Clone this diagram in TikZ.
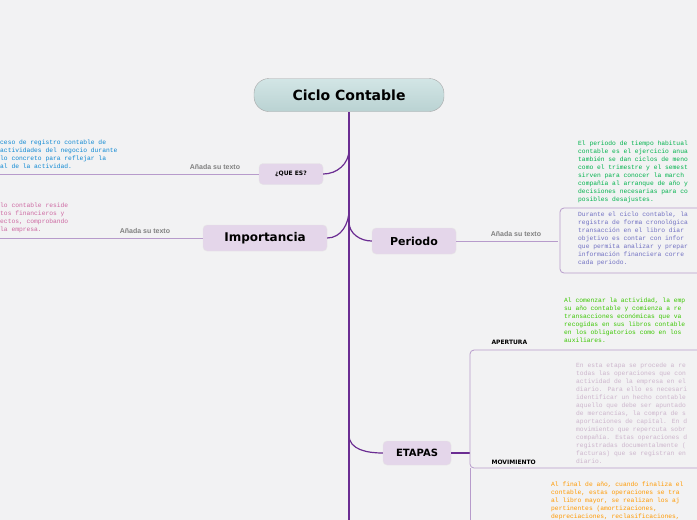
\documentclass[tikz,border=0pt]{standalone}
\usepackage{fontspec}
\setmainfont{DejaVu Sans}
\newfontfamily\mono{Liberation Mono}
\newfontfamily\lab{Liberation Sans}
\definecolor{topicfill}{HTML}{E4D6EA}
\definecolor{trunkc}{HTML}{6B2D92}
\definecolor{thinc}{HTML}{B79BCB}
\begin{document}
\begin{tikzpicture}[x=1pt,y=-1pt,
 topic/.style={draw=white!80!gray,fill=topicfill,rounded corners=4pt,font=\bfseries,text=black,inner sep=0pt},
 conn/.style={draw=trunkc,line width=1.6pt},
 thin/.style={draw=thinc,line width=0.8pt},
 lbl/.style={font=\lab\bfseries\fontsize{7}{8}\selectfont,text=gray},
 txt/.style={font=\mono\fontsize{6.3}{8}\selectfont,align=left,inner sep=0pt,anchor=north west}]
\useasboundingbox (0,0) rectangle (697,520);
\fill[blue!3!gray!10!white] (0,0) rectangle (697,520);
\coordinate (trunk) at (349,112);
\coordinate (bot) at (349,520);
\draw[conn] (trunk) -- (bot);
\node[draw=gray!70,top color=gray!25!teal!20!white,bottom color=gray!45!teal!35!white,rounded corners=15pt,minimum width=190pt,minimum height=33pt,font=\bfseries\fontsize{14}{16}\selectfont] (c) at (349,95) {Ciclo Contable};
\node[topic,minimum width=64pt,minimum height=21pt,font=\bfseries\fontsize{6}{7}\selectfont] (q) at (291,174) {¿QUE ES?};
\node[topic,minimum width=124pt,minimum height=26pt,font=\bfseries\fontsize{12}{14}\selectfont] (imp) at (265,238) {Importancia};
\node[topic,minimum width=84pt,minimum height=26pt,font=\bfseries\fontsize{11}{13}\selectfont] (per) at (414,241) {Periodo};
\node[topic,minimum width=68pt,minimum height=24pt,font=\bfseries\fontsize{10}{12}\selectfont] (eta) at (417,453) {ETAPAS};
\draw[conn,line width=1.2pt] (349,150) to[out=-90,in=0] (q.east);
\draw[conn,line width=1.2pt] (349,210) to[out=-90,in=0] (imp.east);
\draw[conn,line width=1.2pt] (349,222) to[out=-90,in=180] (per.west);
\draw[conn,line width=1.2pt] (349,435) to[out=-90,in=180] (eta.west);
\coordinate (qend) at (0,174);
\coordinate (iend) at (0,238);
\draw[thin] (q.west) -- (qend);
\draw[thin] (imp.west) -- (iend);
\node[lbl] (ql) at (215,167) {Añada su texto};
\node[lbl] (il) at (145,231) {Añada su texto};
\node[txt,text=cyan!70!blue] (qt) at (0,140) {ceso de registro contable de\\ actividades del negocio durante\\lo concreto para reflejar la\\al de la actividad.};
\node[txt,text=magenta!45!violet!70!white] (it) at (0,203) {lo contable reside\\tos financieros y\\ectos, comprobando\\la empresa.};
\coordinate (pj) at (558,241);
\draw[thin] (per.east) -- (pj);
\node[lbl] (pl) at (516,234) {Añada su texto};
\draw[thin,rounded corners=4pt] (700,208) -- (560,208) -- (560,273) -- (700,273);
\node[txt,text=teal!60!green] (pt1) at (578,141) {El periodo de tiempo habitual\\contable es el ejercicio anua\\también se dan ciclos de meno\\como el trimestre y el semest\\sirven para conocer la march\\compañía al arranque de año y\\decisiones necesarias para co\\posibles desajustes.};
\node[txt,text=blue!40!gray!80!white] (pt2) at (578,212) {Durante el ciclo contable, la\\registra de forma cronológica\\transacción en el libro diar\\objetivo es contar con infor\\que permita analizar y prepar\\información financiera corre\\cada periodo.};
\coordinate (ej) at (470,453);
\draw[conn,line width=1.2pt] (eta.east) -- (ej);
\draw[thin,rounded corners=4pt] (700,350) -- (470,350) -- (470,468) -- (700,468);
\draw[thin] (470,468) -- (470,520);
\node[font=\bfseries\fontsize{6}{7}\selectfont,anchor=west] (ap) at (488,342) {APERTURA};
\node[font=\bfseries\fontsize{6}{7}\selectfont,anchor=west] (mo) at (488,462) {MOVIMIENTO};
\node[txt,text=green!55!olive] (at) at (564,298) {Al comenzar la actividad, la emp\\su año contable y comienza a re\\transacciones económicas que va\\recogidas en sus libros contable\\en los obligatorios como en los\\auxiliares.};
\node[txt,text=gray!55!violet!40!white] (mt) at (576,363) {En esta etapa se procede a re\\todas las operaciones que con\\actividad de la empresa en el\\diario. Para ello es necesari\\identificar un hecho contable\\aquello que debe ser apuntado\\de mercancías, la compra de s\\aportaciones de capital. En d\\movimiento que repercuta sobr\\compañía. Estas operaciones d\\registradas documentalmente (\\facturas) que se registran en\\diario.};
\node[txt,text=orange!80!yellow] (ct) at (551,482) {Al final de año, cuando finaliza el\\contable, estas operaciones se tra\\al libro mayor, se realizan los aj\\pertinentes (amortizaciones,\\depreciaciones, reclasificaciones,};
\end{tikzpicture}
\end{document}
